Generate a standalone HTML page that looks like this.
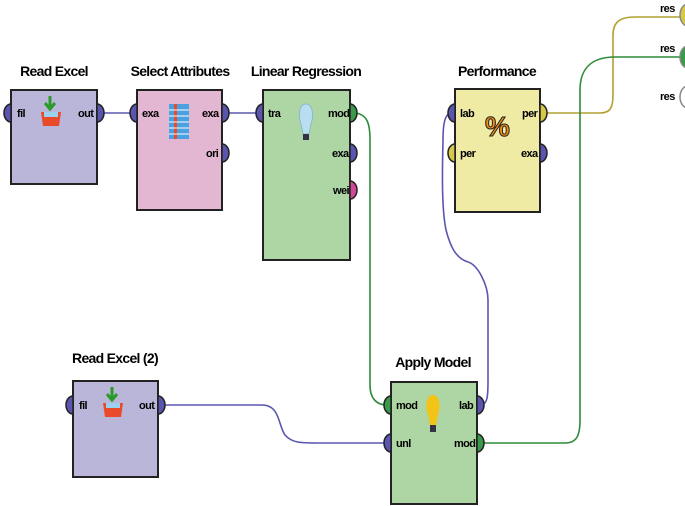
<!DOCTYPE html>
<html><head><meta charset="utf-8"><style>
body{margin:0;background:#fff;}
svg{display:block;}
text{font-family:"Liberation Sans Narrow","Liberation Sans",sans-serif;font-weight:bold;}
.t{font-size:14px;letter-spacing:-0.7px;}
.p{font-size:11px;letter-spacing:-0.6px;}
</style></head><body>
<svg width="685" height="506" viewBox="0 0 685 506" xmlns="http://www.w3.org/2000/svg">
<g fill="none" stroke-width="1.6">
<path d="M100,113 H134" stroke="#5a56b0"/>
<path d="M225,113 H260" stroke="#5a56b0"/>
<path d="M353,113 C368,113 370,125 370,140 V385 C370,400 378,405 387,405" stroke="#2e8b3a"/>
<path d="M161,405 H262 C280,405 278,425 285,435 C292,443 300,443 320,443 H387" stroke="#5a56b0"/>
<path d="M480,405 C488,405 488,395 488,380 V300 C488,285 478,265 468,262 C455,258 450,245 446,230 C442,210 442,180 443,140 C443,120 446,113 452,113" stroke="#5a56b0"/>
<path d="M543,113 H600 C610,113 613,108 613,95 V35 C613,22 620,17 635,17 H680" stroke="#b0a030"/>
<path d="M480,443 H565 C577,443 580,435 580,420 V90 C580,70 590,57 615,57 H680" stroke="#2e8b3a"/>
</g>
<g stroke="#222" stroke-width="2">
<rect x="11" y="90" width="86" height="94" fill="#b9b6d9"/>
<rect x="137" y="90" width="85" height="120" fill="#e3b7d2"/>
<rect x="263" y="90" width="87" height="170" fill="#aed6a4"/>
<rect x="455" y="89" width="85" height="123" fill="#efeaa4"/>
<rect x="73" y="381" width="85" height="96" fill="#b9b6d9"/>
<rect x="391" y="382" width="86" height="122" fill="#aed6a4"/>
</g>
<g stroke="#222" stroke-width="1.5">
<path d="M11,104 a7,9 0 0 0 0,18Z" fill="#5a56b0"/>
<path d="M97,104 a7,9 0 0 1 0,18Z" fill="#5a56b0"/>
<path d="M137,104 a7,9 0 0 0 0,18Z" fill="#5a56b0"/>
<path d="M222,104 a7,9 0 0 1 0,18Z" fill="#5a56b0"/>
<path d="M222,144 a7,9 0 0 1 0,18Z" fill="#5a56b0"/>
<path d="M263,104 a7,9 0 0 0 0,18Z" fill="#5a56b0"/>
<path d="M350,104 a7,9 0 0 1 0,18Z" fill="#3a9a48"/>
<path d="M350,144 a7,9 0 0 1 0,18Z" fill="#5a56b0"/>
<path d="M350,181 a7,9 0 0 1 0,18Z" fill="#d0489a"/>
<path d="M455,104 a7,9 0 0 0 0,18Z" fill="#5a56b0"/>
<path d="M455,144 a7,9 0 0 0 0,18Z" fill="#d8c84a"/>
<path d="M540,104 a7,9 0 0 1 0,18Z" fill="#d8c84a"/>
<path d="M540,144 a7,9 0 0 1 0,18Z" fill="#5a56b0"/>
<path d="M73,396 a7,9 0 0 0 0,18Z" fill="#5a56b0"/>
<path d="M158,396 a7,9 0 0 1 0,18Z" fill="#5a56b0"/>
<path d="M391,396 a7,9 0 0 0 0,18Z" fill="#3a9a48"/>
<path d="M391,434 a7,9 0 0 0 0,18Z" fill="#5a56b0"/>
<path d="M477,396 a7,9 0 0 1 0,18Z" fill="#5a56b0"/>
<path d="M477,434 a7,9 0 0 1 0,18Z" fill="#3a9a48"/>
<ellipse cx="688" cy="15" rx="8" ry="11" fill="#d8c84a" stroke="#888"/>
<ellipse cx="688" cy="57" rx="8" ry="11" fill="#3a9a48" stroke="#888"/>
<ellipse cx="688" cy="97" rx="8" ry="11" fill="#fff" stroke="#888"/>
</g>
<g fill="#000">
<text class="t" x="54" y="76" text-anchor="middle">Read Excel</text>
<text class="t" x="180" y="76" text-anchor="middle">Select Attributes</text>
<text class="t" x="306" y="76" text-anchor="middle">Linear Regression</text>
<text class="t" x="497" y="76" text-anchor="middle">Performance</text>
<text class="t" x="115" y="363" text-anchor="middle">Read Excel (2)</text>
<text class="t" x="433" y="367" text-anchor="middle">Apply Model</text>
<text class="p" x="17" y="117">fil</text><text class="p" x="78" y="117">out</text>
<text class="p" x="142" y="117">exa</text><text class="p" x="202" y="117">exa</text><text class="p" x="206" y="157">ori</text>
<text class="p" x="268" y="117">tra</text><text class="p" x="328" y="117">mod</text><text class="p" x="332" y="157">exa</text><text class="p" x="333" y="194">wei</text>
<text class="p" x="460" y="117">lab</text><text class="p" x="460" y="157">per</text><text class="p" x="522" y="117">per</text><text class="p" x="521" y="157">exa</text>
<text class="p" x="79" y="409">fil</text><text class="p" x="139" y="409">out</text>
<text class="p" x="396" y="409">mod</text><text class="p" x="396" y="447">unl</text><text class="p" x="459" y="409">lab</text><text class="p" x="454" y="447">mod</text>
<text class="p" x="660" y="12">res</text><text class="p" x="660" y="52">res</text><text class="p" x="660" y="100">res</text>
</g>
<g>
<path d="M50,96 v12 M45,103 l5,6 5,-6" stroke="#2a9a2a" stroke-width="3" fill="none"/>
<path d="M41,112 h20 l-2,14 h-16z" fill="#e84a2a"/><rect x="44" y="112" width="14" height="5" fill="#9cd0f0"/>
<path d="M112,387 v12 M107,394 l5,6 5,-6" stroke="#2a9a2a" stroke-width="3" fill="none"/>
<path d="M103,403 h20 l-2,14 h-16z" fill="#e84a2a"/><rect x="106" y="403" width="14" height="5" fill="#9cd0f0"/>
<rect x="169" y="104" width="20" height="35" fill="#4aa0e0"/><rect x="174" y="104" width="3" height="35" fill="#e84a2a"/>
<g stroke="#fff" stroke-width="1"><path d="M169,110 h20 M169,116 h20 M169,122 h20 M169,128 h20 M169,134 h20"/></g>
<path d="M306,104 c-7,0 -8,12 -5,20 l2,10 h6 l2,-10 c3,-8 2,-20 -5,-20z" fill="#b9def0" stroke="#8bc" stroke-width="1"/>
<rect x="303" y="134" width="6" height="6" fill="#334"/>
<path d="M433,395 c-7,0 -8,12 -5,20 l2,10 h6 l2,-10 c3,-8 2,-20 -5,-20z" fill="#f2c418"/>
<rect x="430" y="425" width="6" height="7" fill="#334"/>
<text x="485" y="136" style="font-size:28px;font-family:'Liberation Sans',sans-serif" fill="#f08a10" stroke="#222" stroke-width="1">%</text>
</g>
</svg>
</body></html>
